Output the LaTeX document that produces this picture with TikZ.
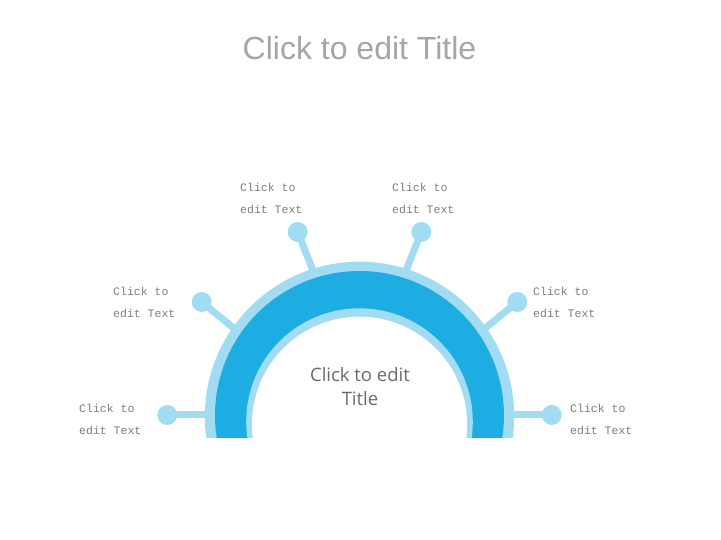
\documentclass[tikz,border=0pt]{standalone}
\usepackage{fontspec}
\setmainfont{Liberation Sans}
\newfontfamily\labelfont{Liberation Mono}
\newfontfamily\centerfont{Open Sans}
\definecolor{lightblue}{HTML}{A2DCF3}
\definecolor{darkblue}{HTML}{1DADE3}
\definecolor{titlegray}{HTML}{A6A6A6}
\definecolor{labelgray}{HTML}{7D7D7D}
\definecolor{centergray}{HTML}{6B6B6B}
\begin{document}
\begin{tikzpicture}[x=1pt,y=1pt,
  spoke/.style={draw=lightblue,line width=7pt},
  knob/.style={circle,fill=lightblue,minimum size=20pt,inner sep=0pt},
  lbl/.style={anchor=west,align=left,inner sep=0pt,text=labelgray,
    font=\labelfont\fontsize{11.5}{22}\selectfont},
]
\useasboundingbox (0,0) rectangle (721,540);
\fill[white] (0,0) rectangle (721,540);
% spokes (drawn under the ring)
\node[knob] (k1) at (167.3,125) {};
\node[knob] (k2) at (201.7,238) {};
\node[knob] (k3) at (297.7,308) {};
\node[knob] (k4) at (421.3,308) {};
\node[knob] (k5) at (517.3,238) {};
\node[knob] (k6) at (551.7,125) {};
\coordinate (e1) at (240,125);
\coordinate (e2) at (261.7,189);
\coordinate (e3) at (325.7,237.5);
\coordinate (e4) at (393.3,237.5);
\coordinate (e5) at (457.3,189);
\coordinate (e6) at (479,125);
\foreach \i in {1,...,6}{\draw[spoke] (k\i.center) -- (e\i);}
% ring
\begin{scope}
\clip (0,102.5) rectangle (721,540);
\fill[lightblue] (359.5,123.6) circle[radius=154.7];
\fill[darkblue] (359.5,124.5) circle[radius=144.5];
\fill[lightblue] (359.5,118.4) circle[radius=113.3];
\fill[white] (359.5,115.7) circle[radius=107.6];
\end{scope}
% texts
\node[text=titlegray,font=\fontsize{32}{36}\selectfont] (title) at (359.5,492) {Click to edit Title};
\node[text=centergray,align=center,font=\centerfont\fontsize{18.5}{24}\selectfont] (ctr) at (360,153) {Click to edit\\Title};
\node[lbl] (t1) at (79,121) {Click to\\edit Text};
\node[lbl] (t2) at (113,237.5) {Click to\\edit Text};
\node[lbl] (t3) at (240,342) {Click to\\edit Text};
\node[lbl] (t4) at (392,342) {Click to\\edit Text};
\node[lbl] (t5) at (533,237.5) {Click to\\edit Text};
\node[lbl] (t6) at (570,121) {Click to\\edit Text};
\end{tikzpicture}
\end{document}
